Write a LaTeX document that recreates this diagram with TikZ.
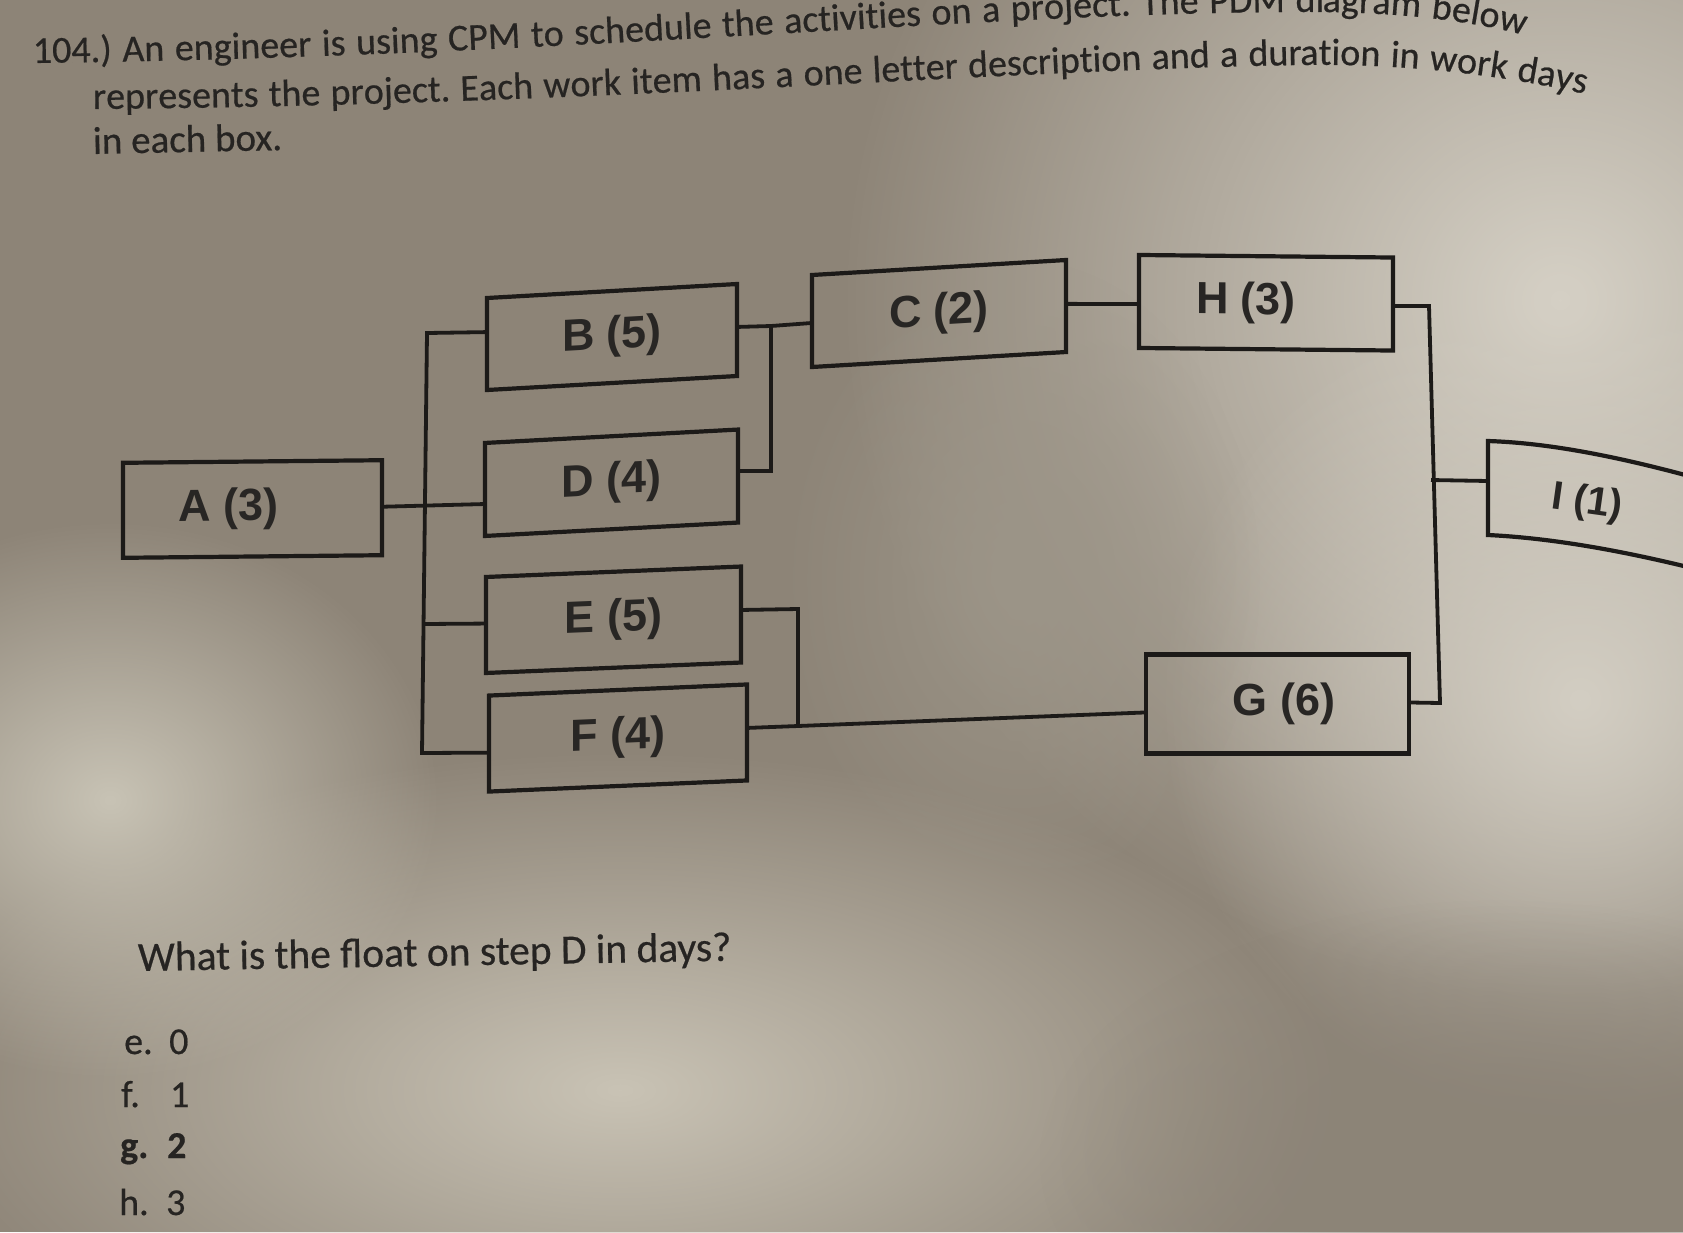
\documentclass[tikz,border=0pt]{standalone}
\usepackage{fontspec}
\setmainfont{Carlito}[FakeBold=0.5]
\newfontfamily\boxfont{Liberation Sans}
\usetikzlibrary{fadings,decorations.text,calc}
\tikzfading[name=softblob, inner color=transparent!0, outer color=transparent!100]
\definecolor{paperbase}{HTML}{8D8477}
\definecolor{lighttop}{HTML}{D6D1C6}
\definecolor{lightright}{HTML}{D3CEC3}
\definecolor{lightbottom}{HTML}{C9C3B5}
\definecolor{lightleft}{HTML}{C8C3B5}
\definecolor{darkcorner}{HTML}{8C8478}
\definecolor{midsmudge}{HTML}{9C9588}
\definecolor{boxline}{HTML}{1C1A18}
\definecolor{labelgray}{HTML}{282624}
\definecolor{inkgray}{HTML}{262422}
\begin{document}
\begin{tikzpicture}[x=1pt,y=1pt,
  pdmbox/.style={draw=boxline, line width=4.2pt, inner sep=0pt, transform shape,
    font=\boxfont\bfseries\fontsize{45}{50}\selectfont, text=labelgray},
  link/.style={draw=boxline, line width=3.8pt, line join=miter},
  prose/.style={text=inkgray, font=\fontsize{39}{46}\selectfont, inner sep=0pt}]
\useasboundingbox (0,0) rectangle (1683,-1232);
\clip (0,0) rectangle (1683,-1232);
% paper / lighting
\fill[paperbase] (0,0) rectangle (1683,-1232);
\fill[lighttop, path fading=softblob] (1560,-300) ellipse (720 and 700);
\fill[lightright, path fading=softblob] (1580,-700) ellipse (420 and 420);
\fill[lightbottom, path fading=softblob] (620,-1090) ellipse (720 and 340);
\fill[lightleft, path fading=softblob] (110,-800) ellipse (330 and 280);
\fill[midsmudge, path fading=softblob] (1020,-580) ellipse (240 and 320);
\fill[darkcorner, path fading=softblob] (1500,-1160) ellipse (460 and 260);
% question text
\path[decorate, decoration={text along path, text align={fit to path stretching spaces},
  text={|\fontsize{38}{46}\selectfont\color{inkgray}|104.) An engineer is using CPM to schedule the activities on a project. The PDM diagram below}}]
  (33,-63) .. controls (600,-56) and (1000,-10) .. (1330,-12) .. controls (1430,-14) and (1490,-26) .. (1524,-35);
\path[decorate, decoration={text along path, text align={fit to path stretching spaces},
  text={|\fontsize{38}{46}\selectfont\color{inkgray}|represents the project. Each work item has a one letter description and a duration in work days}}]
  (93,-109) .. controls (600,-105) and (1000,-70) .. (1300,-65) .. controls (1420,-63) and (1520,-79) .. (1585,-94);
\node[prose, anchor=base west, rotate=1.2] (line3) at (93,-154) {in each box.};
% boxes
\node[pdmbox, minimum width=259pt, minimum height=95pt, yslant=0.01] (A) at (252.5,-509) {A (3)\hspace*{48pt}};
\node[pdmbox, minimum width=250pt, minimum height=92pt, yslant=0.056] (B) at (612,-337) {B (5)};
\node[pdmbox, minimum width=253pt, minimum height=93pt, yslant=0.053] (D) at (611.5,-482.75) {D (4)};
\node[pdmbox, minimum width=255pt, minimum height=96pt, yslant=0.041] (E) at (613.5,-619.75) {E (5)};
\node[pdmbox, minimum width=258pt, minimum height=96pt, yslant=0.043] (F) at (618,-738) {F (4)};
\node[pdmbox, minimum width=254pt, minimum height=92pt, yslant=0.059] (C) at (939,-313.5) {C (2)};
\node[pdmbox, minimum width=254pt, minimum height=93pt, yslant=-0.01] (H) at (1266,-302.75) {H (3)\hspace*{40pt}};
\node[pdmbox, minimum width=263pt, minimum height=99pt] (G) at (1277.5,-704) {\hspace*{13pt}G (6)};
\node[font=\boxfont\bfseries\fontsize{40}{46}\selectfont, text=labelgray, rotate=-8, inner sep=0pt] (I) at (1587,-503) {I (1)};
% I box frame (curved, runs off the page)
\coordinate (Iwt) at (1488,-441);
\coordinate (Iwb) at (1488,-535);
\coordinate (Iw) at (1488,-481);
\draw[link, line width=4.2pt] (1700,-479) .. controls (1620,-457) and (1550,-443) .. (Iwt) -- (Iwb)
  .. controls (1550,-538) and (1620,-550) .. (1700,-570);
% junction points
\coordinate (busLt) at (427,-333);
\coordinate (busLe) at (423.5,-624);
\coordinate (busLb) at (422,-753);
\coordinate (jBD) at (771,-326);
\coordinate (jBD2) at (771,-471);
\coordinate (jEF) at (798,-609);
\coordinate (jEF2) at (798,-726);
\coordinate (busRt) at (1429,-306);
\coordinate (busRi) at (1431,-480);
\coordinate (busRb) at (1440,-703);
% connectors
\draw[link] ([yshift=1pt]A.east) -- ([yshift=-14.5pt]D.west);
\draw[link] ([yshift=12pt]B.west) -- (busLt) -- (busLb) -- ([yshift=-9pt]F.west);
\draw[link] (busLe) -- ([yshift=1.5pt]E.west);
\draw[link] ([yshift=3pt]B.east) -- (jBD) -- (jBD2) -- ([yshift=5pt]D.east);
\draw[link] (jBD) -- ([yshift=-2pt]C.west);
\draw[link] ([yshift=4.5pt]E.east) -- (jEF) -- (jEF2) -- ([yshift=4.5pt]F.east);
\draw[link] (jEF2) -- ([yshift=-8.5pt]G.west);
\draw[link] ([yshift=2pt]C.east) -- ([yshift=-2.5pt]H.west);
\draw[link] ([yshift=-2pt]H.east) -- (busRt) -- (busRb) -- ([yshift=1.5pt]G.east);
\draw[link] (busRi) -- (Iw);
% question
\node[prose, anchor=base west, rotate=1, font=\fontsize{41.5}{48}\selectfont] (q) at (138,-971) {What is the float on step D in days?};
\node[prose, anchor=base west, font=\fontsize{38}{44}\selectfont] (oe) at (124,-1054) {\makebox[45pt][l]{e.}0};
\node[prose, anchor=base west, font=\fontsize{38}{44}\selectfont] (of) at (121,-1107) {\makebox[49pt][l]{f.}1};
\node[prose, anchor=base west, font=\bfseries\fontsize{38}{44}\selectfont] (og) at (120,-1158) {\makebox[47pt][l]{g.}2};
\node[prose, anchor=base west, font=\fontsize{38}{44}\selectfont] (oh) at (119,-1215) {\makebox[47pt][l]{h.}3};
\end{tikzpicture}
\end{document}
